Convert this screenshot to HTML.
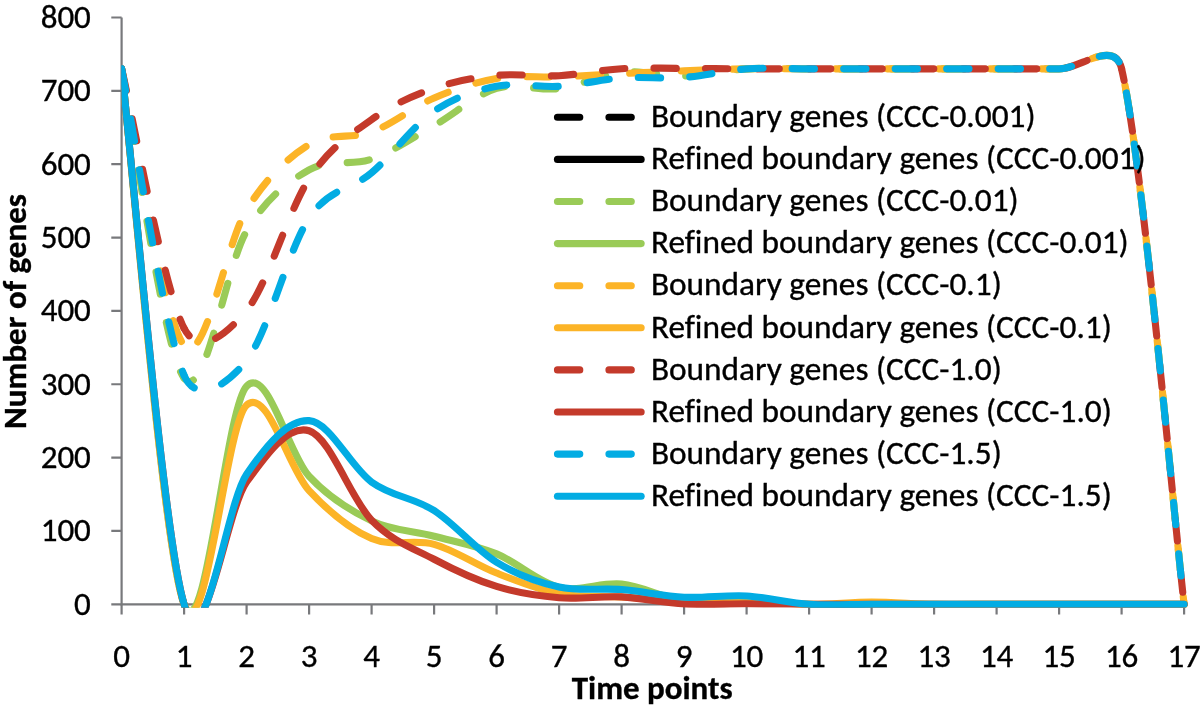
<!DOCTYPE html>
<html><head><meta charset="utf-8"><title>Number of genes over time points</title>
<style>
html,body{margin:0;padding:0;background:#fff;}
svg{display:block;}
text{font-family:Carlito,"Liberation Sans",sans-serif;fill:#000;stroke:#000;stroke-width:0.35px;font-variant-ligatures:none;font-feature-settings:"liga" 0;}
.tl{font-size:33px;}
.lg{font-size:33.3px;}
.at{font-size:33px;font-weight:bold;}
</style></head><body>
<svg width="1200" height="709" viewBox="0 0 1200 709">
<defs><clipPath id="pc"><rect x="121.4" y="0" width="1078.6" height="607.8"/></clipPath></defs>
<path d="M121.60,17.50 V604.30 H1184.10" fill="none" stroke="#78797C" stroke-width="2.2"/>
<path d="M111.30,604.30H121.60 M111.30,530.95H121.60 M111.30,457.60H121.60 M111.30,384.25H121.60 M111.30,310.90H121.60 M111.30,237.55H121.60 M111.30,164.20H121.60 M111.30,90.85H121.60 M111.30,17.50H121.60 M121.60,604.30V614.60 M184.10,604.30V614.60 M246.60,604.30V614.60 M309.10,604.30V614.60 M371.60,604.30V614.60 M434.10,604.30V614.60 M496.60,604.30V614.60 M559.10,604.30V614.60 M621.60,604.30V614.60 M684.10,604.30V614.60 M746.60,604.30V614.60 M809.10,604.30V614.60 M871.60,604.30V614.60 M934.10,604.30V614.60 M996.60,604.30V614.60 M1059.10,604.30V614.60 M1121.60,604.30V614.60 M1184.10,604.30V614.60" stroke="#78797C" stroke-width="2.2" fill="none"/>
<text x="90.85" y="614.70" text-anchor="end" class="tl" textLength="16.73" lengthAdjust="spacingAndGlyphs">0</text>
<text x="90.85" y="541.35" text-anchor="end" class="tl" textLength="50.19" lengthAdjust="spacingAndGlyphs">100</text>
<text x="90.85" y="468.00" text-anchor="end" class="tl" textLength="50.19" lengthAdjust="spacingAndGlyphs">200</text>
<text x="90.85" y="394.65" text-anchor="end" class="tl" textLength="50.19" lengthAdjust="spacingAndGlyphs">300</text>
<text x="90.85" y="321.30" text-anchor="end" class="tl" textLength="50.19" lengthAdjust="spacingAndGlyphs">400</text>
<text x="90.85" y="247.95" text-anchor="end" class="tl" textLength="50.19" lengthAdjust="spacingAndGlyphs">500</text>
<text x="90.85" y="174.60" text-anchor="end" class="tl" textLength="50.19" lengthAdjust="spacingAndGlyphs">600</text>
<text x="90.85" y="101.25" text-anchor="end" class="tl" textLength="50.19" lengthAdjust="spacingAndGlyphs">700</text>
<text x="90.85" y="27.90" text-anchor="end" class="tl" textLength="50.19" lengthAdjust="spacingAndGlyphs">800</text>
<text x="121.60" y="666.90" text-anchor="middle" class="tl" textLength="16.73" lengthAdjust="spacingAndGlyphs">0</text>
<text x="184.10" y="666.90" text-anchor="middle" class="tl" textLength="16.73" lengthAdjust="spacingAndGlyphs">1</text>
<text x="246.60" y="666.90" text-anchor="middle" class="tl" textLength="16.73" lengthAdjust="spacingAndGlyphs">2</text>
<text x="309.10" y="666.90" text-anchor="middle" class="tl" textLength="16.73" lengthAdjust="spacingAndGlyphs">3</text>
<text x="371.60" y="666.90" text-anchor="middle" class="tl" textLength="16.73" lengthAdjust="spacingAndGlyphs">4</text>
<text x="434.10" y="666.90" text-anchor="middle" class="tl" textLength="16.73" lengthAdjust="spacingAndGlyphs">5</text>
<text x="496.60" y="666.90" text-anchor="middle" class="tl" textLength="16.73" lengthAdjust="spacingAndGlyphs">6</text>
<text x="559.10" y="666.90" text-anchor="middle" class="tl" textLength="16.73" lengthAdjust="spacingAndGlyphs">7</text>
<text x="621.60" y="666.90" text-anchor="middle" class="tl" textLength="16.73" lengthAdjust="spacingAndGlyphs">8</text>
<text x="684.10" y="666.90" text-anchor="middle" class="tl" textLength="16.73" lengthAdjust="spacingAndGlyphs">9</text>
<text x="746.60" y="666.90" text-anchor="middle" class="tl" textLength="33.45" lengthAdjust="spacingAndGlyphs">10</text>
<text x="809.10" y="666.90" text-anchor="middle" class="tl" textLength="33.45" lengthAdjust="spacingAndGlyphs">11</text>
<text x="871.60" y="666.90" text-anchor="middle" class="tl" textLength="33.45" lengthAdjust="spacingAndGlyphs">12</text>
<text x="934.10" y="666.90" text-anchor="middle" class="tl" textLength="33.45" lengthAdjust="spacingAndGlyphs">13</text>
<text x="996.60" y="666.90" text-anchor="middle" class="tl" textLength="33.45" lengthAdjust="spacingAndGlyphs">14</text>
<text x="1059.10" y="666.90" text-anchor="middle" class="tl" textLength="33.45" lengthAdjust="spacingAndGlyphs">15</text>
<text x="1121.60" y="666.90" text-anchor="middle" class="tl" textLength="33.45" lengthAdjust="spacingAndGlyphs">16</text>
<text x="1184.10" y="666.90" text-anchor="middle" class="tl" textLength="33.45" lengthAdjust="spacingAndGlyphs">17</text>
<text class="at" transform="translate(25.8,428.9) rotate(-90)" textLength="234.84" lengthAdjust="spacingAndGlyphs">Number of genes</text>
<text class="at" x="571.7" y="698.7" textLength="160.94" lengthAdjust="spacingAndGlyphs">Time points</text>
<g fill="none" stroke-width="7.1" stroke-linecap="round" stroke-linejoin="round">
<g clip-path="url(#pc)">
<path d="M121.60,68.84C132.02,120.40 163.27,351.13 184.10,378.16" stroke="#9ACB57" stroke-dasharray="22.33 29.17" stroke-dashoffset="0.00"/>
<path d="M184.10,378.16C204.93,405.19 225.77,265.74 246.60,231.02C267.43,196.30 288.27,181.83 309.10,169.85C329.93,157.87 350.77,166.52 371.60,159.14C392.43,151.75 413.27,137.33 434.10,125.54C454.93,113.76 475.77,94.59 496.60,88.43C517.43,82.27 538.27,91.28 559.10,88.58C579.93,85.87 600.77,74.31 621.60,72.22C642.43,70.13 663.27,76.60 684.10,76.03C704.93,75.47 725.77,70.04 746.60,68.84C767.43,67.65 788.27,68.84 809.10,68.84C829.93,68.84 850.77,68.84 871.60,68.84C892.43,68.84 913.27,68.84 934.10,68.84C954.93,68.84 975.77,68.84 996.60,68.84C1017.43,68.84 1038.27,68.84 1059.10,68.84C1079.93,68.84 1114.50,38.41 1121.60,68.84" stroke="#9ACB57" stroke-dasharray="22.33 29.17" stroke-dashoffset="11.34"/>
<path d="M1121.60,68.84C1142.43,158.09 1173.68,515.06 1184.10,604.30" stroke="#9ACB57" stroke-dasharray="22.33 29.17" stroke-dashoffset="30.78"/>
<path d="M121.60,68.84C132.02,158.09 163.27,551.41 184.10,604.30C204.93,657.19 225.77,407.50 246.60,386.16C267.43,364.81 288.27,453.77 309.10,476.23C329.93,498.69 350.77,510.90 371.60,520.90C392.43,530.90 413.27,530.73 434.10,536.23C454.93,541.73 475.77,545.39 496.60,553.91C517.43,562.43 538.27,582.32 559.10,587.36C579.93,592.39 600.77,581.92 621.60,584.13C642.43,586.34 663.27,597.88 684.10,600.63C704.93,603.38 725.77,600.02 746.60,600.63C767.43,601.24 788.27,603.69 809.10,604.30C829.93,604.91 850.77,604.30 871.60,604.30C892.43,604.30 913.27,604.30 934.10,604.30C954.93,604.30 975.77,604.30 996.60,604.30C1017.43,604.30 1038.27,604.30 1059.10,604.30C1079.93,604.30 1100.77,604.30 1121.60,604.30C1142.43,604.30 1173.68,604.30 1184.10,604.30" stroke="#9ACB57"/>
<path d="M121.60,68.84C132.02,114.93 163.27,321.90 184.10,345.37" stroke="#FCB427" stroke-dasharray="22.33 29.17" stroke-dashoffset="0.39"/>
<path d="M184.10,345.37C204.93,368.85 225.77,243.14 246.60,209.68C267.43,176.22 288.27,157.56 309.10,144.62C329.93,131.67 350.77,139.77 371.60,132.00C392.43,124.22 413.27,106.89 434.10,97.96C454.93,89.04 475.77,81.97 496.60,78.45C517.43,74.93 538.27,77.65 559.10,76.84C579.93,76.03 600.77,74.62 621.60,73.61C642.43,72.61 663.27,71.62 684.10,70.83C704.93,70.03 725.77,69.18 746.60,68.84C767.43,68.51 788.27,68.84 809.10,68.84C829.93,68.84 850.77,68.84 871.60,68.84C892.43,68.84 913.27,68.84 934.10,68.84C954.93,68.84 975.77,68.84 996.60,68.84C1017.43,68.84 1038.27,68.84 1059.10,68.84C1079.93,68.84 1114.50,38.41 1121.60,68.84" stroke="#FCB427" stroke-dasharray="22.33 29.17" stroke-dashoffset="34.19"/>
<path d="M1121.60,68.84C1142.43,158.09 1173.68,515.06 1184.10,604.30" stroke="#FCB427" stroke-dasharray="22.33 29.17" stroke-dashoffset="34.83"/>
<path d="M121.60,68.84C132.02,158.09 163.27,548.24 184.10,604.30C204.93,660.36 225.77,424.18 246.60,405.23C267.43,386.28 288.27,468.38 309.10,490.61C329.93,512.83 350.77,529.63 371.60,538.58C392.43,547.53 413.27,538.55 434.10,544.30C454.93,550.05 475.77,564.83 496.60,573.05C517.43,581.28 538.27,589.68 559.10,593.66C579.93,597.65 600.77,595.80 621.60,596.96C642.43,598.13 663.27,600.02 684.10,600.63C704.93,601.24 725.77,600.02 746.60,600.63C767.43,601.24 788.27,604.06 809.10,604.30C829.93,604.54 850.77,602.10 871.60,602.10C892.43,602.10 913.27,603.93 934.10,604.30C954.93,604.67 975.77,604.30 996.60,604.30C1017.43,604.30 1038.27,604.30 1059.10,604.30C1079.93,604.30 1100.77,604.30 1121.60,604.30C1142.43,604.30 1173.68,604.30 1184.10,604.30" stroke="#FCB427"/>
<path d="M121.60,68.84C132.02,112.10 163.27,288.10 184.10,328.36" stroke="#C43A2B" stroke-dasharray="22.33 29.17" stroke-dashoffset="0.21"/>
<path d="M184.10,328.36C199.04,357.24 225.77,335.31 246.60,310.39C267.43,285.46 288.27,210.61 309.10,178.80C329.93,146.99 350.77,134.63 371.60,119.53C392.43,104.43 413.27,95.56 434.10,88.21C454.93,80.86 475.77,77.54 496.60,75.45C517.43,73.36 538.27,76.79 559.10,75.67C579.93,74.54 600.77,69.91 621.60,68.70C642.43,67.49 663.27,68.38 684.10,68.40C704.93,68.43 725.77,68.77 746.60,68.84C767.43,68.92 788.27,68.84 809.10,68.84C829.93,68.84 850.77,68.84 871.60,68.84C892.43,68.84 913.27,68.84 934.10,68.84C954.93,68.84 975.77,68.84 996.60,68.84C1017.43,68.84 1038.27,68.84 1059.10,68.84C1079.93,68.84 1114.50,38.41 1121.60,68.84" stroke="#C43A2B" stroke-dasharray="22.33 29.17" stroke-dashoffset="13.45"/>
<path d="M1121.60,68.84C1142.43,158.09 1173.68,515.06 1184.10,604.30" stroke="#C43A2B" stroke-dasharray="22.33 29.17" stroke-dashoffset="10.40"/>
<path d="M121.60,68.84C132.02,158.09 163.27,535.44 184.10,604.30C203.98,670.02 225.77,510.95 246.60,482.03C267.43,453.10 288.27,424.40 309.10,430.75C329.93,437.11 350.77,498.75 371.60,520.17C392.43,541.59 413.27,548.21 434.10,559.26C454.93,570.31 475.77,580.07 496.60,586.48C517.43,592.88 538.27,595.96 559.10,597.70C579.93,599.43 600.77,595.85 621.60,596.89C642.43,597.93 663.27,602.78 684.10,603.93C704.93,605.08 725.77,603.73 746.60,603.79C767.43,603.85 788.27,604.21 809.10,604.30C829.93,604.39 850.77,604.30 871.60,604.30C892.43,604.30 913.27,604.30 934.10,604.30C954.93,604.30 975.77,604.30 996.60,604.30C1017.43,604.30 1038.27,604.30 1059.10,604.30C1079.93,604.30 1100.77,604.30 1121.60,604.30C1142.43,604.30 1173.68,604.30 1184.10,604.30" stroke="#C43A2B"/>
<path d="M121.60,68.84C132.02,119.92 163.27,326.68 184.10,375.30" stroke="#02ACE3" stroke-dasharray="22.33 29.17" stroke-dashoffset="0.37"/>
<path d="M184.10,375.30C196.75,404.81 226.62,385.69 246.60,360.56C267.43,334.36 288.27,249.41 309.10,218.11C329.93,186.82 350.77,190.59 371.60,172.78C392.43,154.97 413.27,125.65 434.10,111.24C454.93,96.83 475.77,90.46 496.60,86.30C517.43,82.15 538.27,87.68 559.10,86.30C579.93,84.92 600.77,79.51 621.60,78.01C642.43,76.52 663.27,78.88 684.10,77.35C704.93,75.83 725.77,70.26 746.60,68.84C767.43,67.43 788.27,68.84 809.10,68.84C829.93,68.84 850.77,68.84 871.60,68.84C892.43,68.84 913.27,68.84 934.10,68.84C954.93,68.84 975.77,68.84 996.60,68.84C1017.43,68.84 1038.27,68.84 1059.10,68.84C1079.93,68.84 1114.50,38.41 1121.60,68.84" stroke="#02ACE3" stroke-dasharray="22.33 29.17" stroke-dashoffset="5.97"/>
<path d="M1121.60,68.84C1142.43,158.09 1173.68,515.06 1184.10,604.30" stroke="#02ACE3" stroke-dasharray="22.33 29.17" stroke-dashoffset="26.77"/>
<path d="M121.60,68.84C132.02,158.09 163.27,536.73 184.10,604.30C204.93,671.87 225.77,504.86 246.60,474.25C267.43,443.64 288.27,419.34 309.10,420.63C329.93,421.93 350.77,467.04 371.60,482.03C392.43,497.01 413.27,497.18 434.10,510.56C454.93,523.93 475.77,549.53 496.60,562.27C517.43,575.01 538.27,582.44 559.10,586.99C579.93,591.54 600.77,587.85 621.60,589.56C642.43,591.27 663.27,596.19 684.10,597.26C704.93,598.32 725.77,594.76 746.60,595.94C767.43,597.11 788.27,602.91 809.10,604.30C829.93,605.69 850.77,604.30 871.60,604.30C892.43,604.30 913.27,604.30 934.10,604.30C954.93,604.30 975.77,604.30 996.60,604.30C1017.43,604.30 1038.27,604.30 1059.10,604.30C1079.93,604.30 1100.77,604.30 1121.60,604.30C1142.43,604.30 1173.68,604.30 1184.10,604.30" stroke="#02ACE3"/>
</g>
<path d="M557.45,117.30H641.15" stroke="#000000" stroke-dasharray="22.33 29.17"/>
<text x="650.9" y="127.05" class="lg" textLength="384.61" lengthAdjust="spacingAndGlyphs">Boundary genes (CCC-0.001)</text>
<path d="M557.45,159.40H641.15" stroke="#000000"/>
<text x="650.9" y="169.15" class="lg" textLength="494.66" lengthAdjust="spacingAndGlyphs">Refined boundary genes (CCC-0.001)</text>
<path d="M557.45,201.50H641.15" stroke="#9ACB57" stroke-dasharray="22.33 29.17"/>
<text x="650.9" y="211.25" class="lg" textLength="367.73" lengthAdjust="spacingAndGlyphs">Boundary genes (CCC-0.01)</text>
<path d="M557.45,243.60H641.15" stroke="#9ACB57"/>
<text x="650.9" y="253.35" class="lg" textLength="477.77" lengthAdjust="spacingAndGlyphs">Refined boundary genes (CCC-0.01)</text>
<path d="M557.45,285.70H641.15" stroke="#FCB427" stroke-dasharray="22.33 29.17"/>
<text x="650.9" y="295.45" class="lg" textLength="350.86" lengthAdjust="spacingAndGlyphs">Boundary genes (CCC-0.1)</text>
<path d="M557.45,327.80H641.15" stroke="#FCB427"/>
<text x="650.9" y="337.55" class="lg" textLength="460.89" lengthAdjust="spacingAndGlyphs">Refined boundary genes (CCC-0.1)</text>
<path d="M557.45,369.90H641.15" stroke="#C43A2B" stroke-dasharray="22.33 29.17"/>
<text x="650.9" y="379.65" class="lg" textLength="350.86" lengthAdjust="spacingAndGlyphs">Boundary genes (CCC-1.0)</text>
<path d="M557.45,412.00H641.15" stroke="#C43A2B"/>
<text x="650.9" y="421.75" class="lg" textLength="460.89" lengthAdjust="spacingAndGlyphs">Refined boundary genes (CCC-1.0)</text>
<path d="M557.45,454.10H641.15" stroke="#02ACE3" stroke-dasharray="22.33 29.17"/>
<text x="650.9" y="463.85" class="lg" textLength="350.86" lengthAdjust="spacingAndGlyphs">Boundary genes (CCC-1.5)</text>
<path d="M557.45,496.20H641.15" stroke="#02ACE3"/>
<text x="650.9" y="505.95" class="lg" textLength="460.89" lengthAdjust="spacingAndGlyphs">Refined boundary genes (CCC-1.5)</text>
</g>
</svg>
</body></html>
